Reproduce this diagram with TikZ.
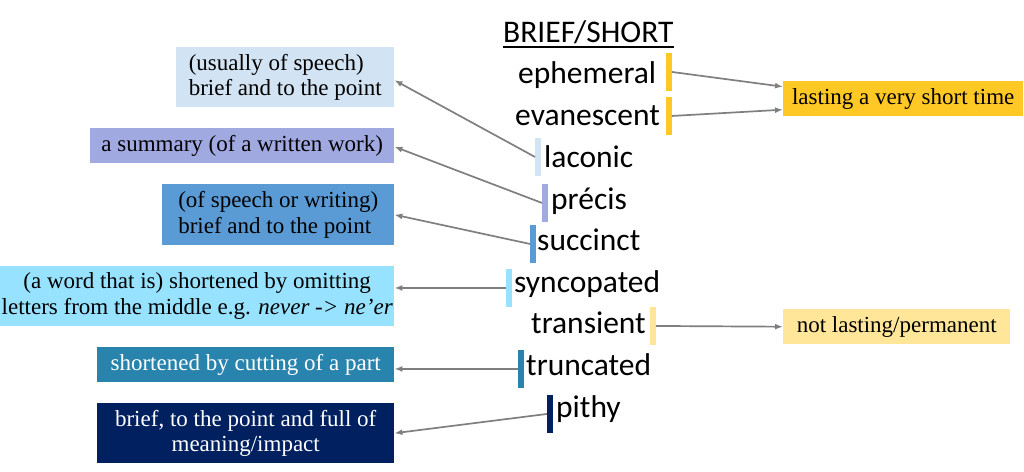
\documentclass[tikz,border=0pt]{standalone}
\usepackage{fontspec}
\setmainfont{Liberation Serif}
\newfontfamily\wordfont{Carlito}
\usetikzlibrary{arrows.meta}
\definecolor{cGold}{HTML}{FFC825}
\definecolor{cPale}{HTML}{FFE699}
\definecolor{cLight}{HTML}{D2E3F3}
\definecolor{cLav}{HTML}{A1A9E1}
\definecolor{cMid}{HTML}{5B9BD5}
\definecolor{cCyan}{HTML}{97E2FF}
\definecolor{cTeal}{HTML}{2884AC}
\definecolor{cNavy}{HTML}{002060}
\definecolor{arrowgray}{HTML}{7F7F7F}
\begin{document}
\begin{tikzpicture}[x=1pt,y=-1pt,
  word/.style={anchor=base west, inner sep=0pt, text=black, font=\wordfont\fontsize{31.5}{31.5}\selectfont},
  bar/.style={anchor=north west, inner sep=0pt, minimum width=5.5pt, minimum height=37.5pt, fill=#1},
  defbox/.style={anchor=north west, inner xsep=0pt, inner ysep=0pt, align=center, font=\fontsize{23}{25.5}\selectfont},
  leftbox/.style={defbox, align=left},
  link/.style={draw=arrowgray, line width=1.7pt, -{Latex[length=8pt,width=6pt]}},
]
\useasboundingbox (0,0) rectangle (1024,471);

% title
\node[word] (title) at (503,42) {BRIEF/SHORT};
\draw[line width=2pt] ([yshift=-4.5pt]title.base west) -- ([yshift=-4.5pt]title.base east);

% words
\node[word] (wEph) at (518,83) {ephemeral};
\node[word] (wEva) at (515,125) {evanescent};
\node[word] (wLac) at (544,167) {laconic};
\node[word] (wPre) at (551,209) {précis};
\node[word] (wSuc) at (537,250) {succinct};
\node[word] (wSyn) at (514,292) {syncopated};
\node[word] (wTra) at (531,333) {transient};
\node[word] (wTru) at (526,375) {truncated};
\node[word] (wPit) at (556,417) {pithy};

% bars
\node[bar=cGold] (bEph) at (666,53) {};
\node[bar=cGold] (bEva) at (666,97) {};
\node[bar=cLight] (bLac) at (535,138) {};
\node[bar=cLav] (bPre) at (542,184) {};
\node[bar=cMid] (bSuc) at (530,225) {};
\node[bar=cCyan] (bSyn) at (506,269) {};
\node[bar=cPale] (bTra) at (650,307) {};
\node[bar=cTeal] (bTru) at (518,350) {};
\node[bar=cNavy] (bPit) at (547,395) {};

% definition boxes
\node[leftbox, fill=cLight, minimum width=218pt, minimum height=60pt] (box1) at (176,47)
  {(usually of speech)\\brief and to the point};
\node[defbox, fill=cLav, minimum width=304pt, minimum height=35pt] (box2) at (90,128)
  {a summary (of a written work)};
\node[leftbox, fill=cMid, minimum width=232pt, minimum height=61pt] (box3) at (162,184)
  {(of speech or writing)\\brief and to the point};
\node[defbox, fill=cCyan, minimum width=394pt, minimum height=60pt] (box4) at (0,266)
  {(a word that is) shortened by omitting\\letters from the middle e.g. \textit{never -> ne’er}};
\node[defbox, fill=cTeal, text=white, minimum width=297pt, minimum height=35pt] (box5) at (97,347)
  {shortened by cutting of a part};
\node[defbox, fill=cNavy, text=white, minimum width=297pt, minimum height=60pt] (box6) at (97,403)
  {brief, to the point and full of\\meaning/impact};
\node[defbox, fill=cGold, minimum width=240pt, minimum height=35pt] (box7) at (783,81)
  {lasting a very short time};
\node[defbox, fill=cPale, minimum width=227pt, minimum height=35pt] (box8) at (783,309)
  {not lasting/permanent};

% connectors
\draw[link] (bEph.east) -- ([yshift=12pt]box7.west);
\draw[link] (bEva.east) -- ([yshift=-11pt]box7.west);
\draw[link] (bLac.west) -- ([yshift=-3pt]box1.east);
\draw[link] (bPre.west) -- ([yshift=-1pt]box2.east);
\draw[link] (bSuc.west) -- (box3.east);
\draw[link] (bSyn.west) -- (bSyn.west -| box4.east);
\draw[link] (bTra.east) -- (box8.west);
\draw[link] (bTru.west) -- (bTru.west -| box5.east);
\draw[link] (bPit.west) -- (box6.east);
\end{tikzpicture}
\end{document}
